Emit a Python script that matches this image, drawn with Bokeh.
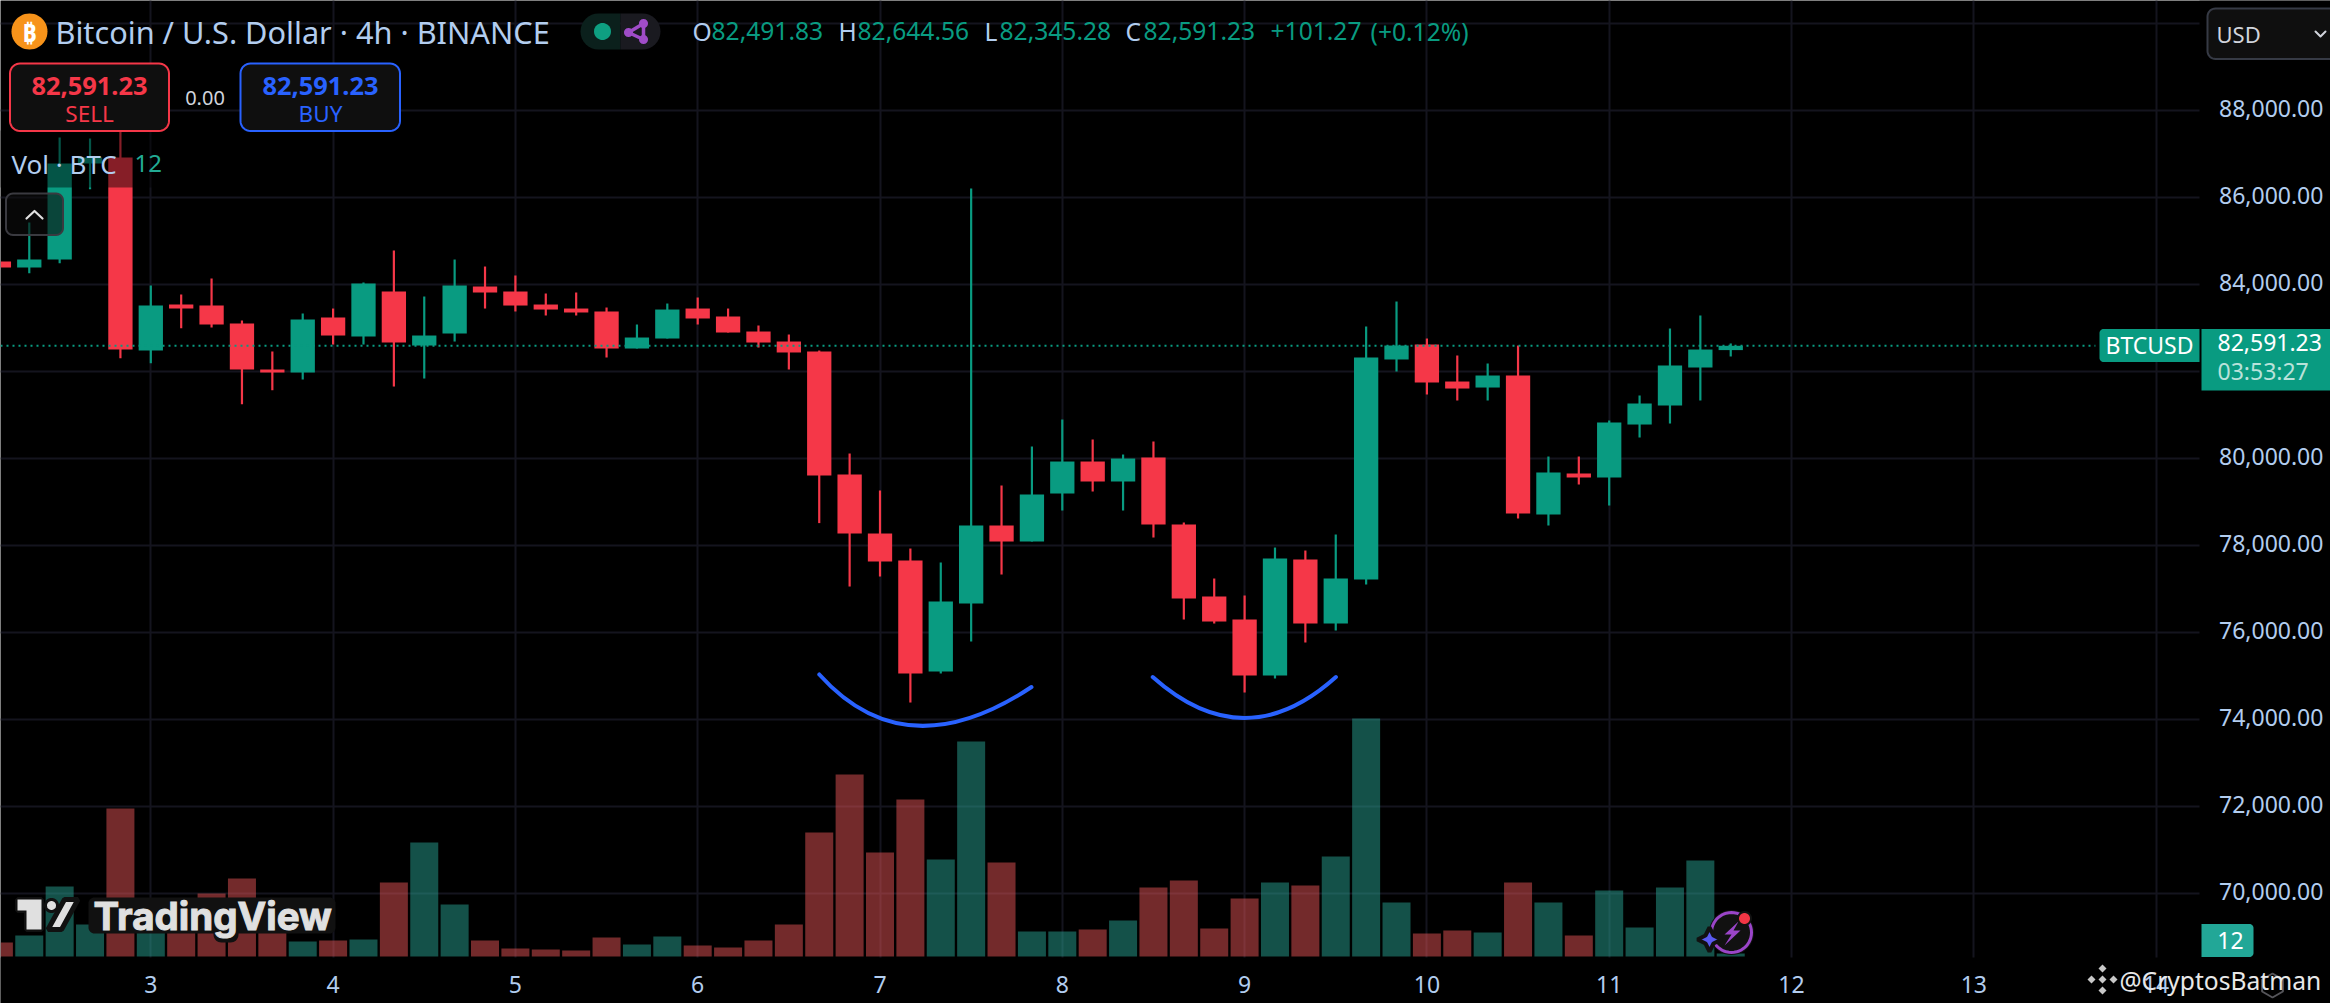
import numpy as np
from bokeh.core.properties import value
from bokeh.plotting import figure
from bokeh.models import Range1d, LinearAxis, Grid, FixedTicker, NumeralTickFormatter
from bokeh.embed import file_html
from bokeh.resources import INLINE

# ---- data ----
bar_index = list(range(-5, 53))   # 4h candles counted from the 3rd, 00:00
opens = [84527, 84389, 84573, 86779, 86917, 82482, 83539, 83516, 83103, 82046,
         81977, 83241, 82804, 83838, 82597, 82873, 83953, 83838, 83539, 83447,
         83379, 82528, 82758, 83447, 83264, 82919, 82689, 82460, 79634, 78278,
         77658, 75107, 76670, 78462, 78094, 79197, 79932, 79473, 80024, 78485,
         76831, 76302, 75016, 77681, 76210, 77221, 82276, 82620, 81770, 81632,
         81908, 78715, 79657, 79565, 80782, 81219, 82092, 82491.83]
closes = [84389, 84573, 86779, 86917, 82505, 83516, 83447, 83080, 82046, 81977,
          83195, 82827, 84022, 82666, 82827, 83976, 83815, 83516, 83424, 83356,
          82528, 82781, 83424, 83218, 82896, 82666, 82437, 79611, 78278, 77635,
          75062, 76716, 78462, 78094, 79174, 79932, 79473, 80001, 78485, 76785,
          76256, 75016, 77704, 76210, 77244, 82322, 82597, 81747, 81609, 81908,
          78738, 79680, 79565, 80828, 81265, 82138, 82505, 82591.23]
highs = [84527, 85423, 87376, 87353, 87652, 83976, 83769, 84137, 83172, 82460,
         83333, 83447, 84045, 84780, 83723, 84573, 84412, 84206, 83792, 83815,
         83470, 83080, 83562, 83700, 83447, 83057, 82850, 82482, 80116, 79266,
         77933, 77612, 86204, 79381, 80277, 80897, 80438, 80093, 80392, 78531,
         77244, 76854, 77956, 77887, 78255, 83034, 83608, 82758, 82368, 82184,
         82597, 80047, 80047, 80874, 81449, 82988, 83287, 82644.56]
lows = [84389, 84258, 84488, 86188, 82306, 82191, 82995, 83011, 81249, 81570,
        81816, 82620, 82620, 81655, 81839, 82689, 83447, 83379, 83287, 83287,
        82322, 82528, 82758, 83080, 82896, 82551, 82046, 78517, 77060, 77290,
        74395, 75062, 75797, 77336, 78094, 78806, 79243, 78806, 78186, 76302,
        76210, 74625, 74947, 75774, 76049, 77106, 82000, 81472, 81334, 81334,
        78623, 78462, 79404, 78921, 80484, 80805, 81334, 82345.28]
volumes = [56, 84, 280, 128, 592, 120, 132, 252, 312, 112, 60, 64, 68, 296, 456,
           208, 64, 32, 28, 24, 76, 48, 80, 44, 36, 64, 128, 496, 728, 416, 628,
           388, 860, 376, 100, 100, 108, 144, 276, 304, 112, 232, 296, 284, 400,
           952, 216, 92, 104, 96, 296, 216, 84, 264, 116, 276, 384, 12]
price_ticks = [70000, 72000, 74000, 76000, 78000, 80000, 82000, 84000, 86000, 88000, 90000]
day_ticks = [3, 4, 5, 6, 7, 8, 9, 10, 11, 12, 13, 14]
last_price = 82591.23
# hand-drawn smile strokes: start day, end day, control day, start price, end price, control price
smile_x0 = [6.667, 8.496]
smile_x1 = [7.831, 9.501]
smile_cx = [7.140, 9.000]
smile_y0 = [75039, 74981]
smile_y1 = [74751, 74981]
smile_cy = [72833, 73097]

RED, GREEN = "#F53748", "#099B81"
VOL_RED, VOL_GREEN = "#F45A5C", "#2AAC9C"
BLUE = "#2962FF"
TXT = "#B2CDEF"
FONT = "Noto Sans"
BG = "#000000"
GRID = "#14141E"

days = 3 + np.array(bar_index) / 6
up = [c >= o for o, c in zip(opens, closes)]
col = [GREEN if u else RED for u in up]
vol_col = [VOL_GREEN if u else VOL_RED for u in up]
body_top = [max(o, c) for o, c in zip(opens, closes)]
body_bot = [min(o, c) for o, c in zip(opens, closes)]

p = figure(width=2330, height=1003, output_backend="svg", toolbar_location=None,
           x_range=Range1d(2.1755, 14.9567), y_range=Range1d(67480, 90524),
           x_axis_type=None, y_axis_type=None, min_border=0,
           background_fill_color=BG, border_fill_color=BG, outline_line_color=None)
p.extra_x_ranges["px"] = Range1d(0, 2330)
p.extra_y_ranges["py"] = Range1d(1003, 0)
p.extra_y_ranges["vol"] = Range1d(-188, 3824)
p.extra_y_ranges["ylab"] = Range1d(67480 - 46, 90524 - 46)  # labels sit 2px above their grid lines

# grids
p.add_layout(Grid(dimension=0, ticker=FixedTicker(ticks=day_ticks), grid_line_color=GRID, grid_line_width=2))
p.add_layout(Grid(dimension=1, ticker=FixedTicker(ticks=price_ticks), grid_line_color=GRID, grid_line_width=2))
PX = dict(x_range_name="px", y_range_name="py")
# scales' gutters hide the grid
p.quad(left=[2199], right=[2330], top=[0], bottom=[1003], fill_color=BG, line_color=None, **PX)
p.quad(left=[0], right=[2330], top=[957], bottom=[1003], fill_color=BG, line_color=None, **PX)

# axes
yax = LinearAxis(ticker=FixedTicker(ticks=price_ticks), formatter=NumeralTickFormatter(format="0,0.00"),
                 y_range_name="ylab",
                 fixed_location=14.918, axis_line_color=None, major_tick_line_color=None,
                 minor_tick_line_color=None, major_tick_out=0, major_tick_in=0, major_label_standoff=0,
                 major_label_text_color=TXT, major_label_text_font=FONT,
                 major_label_text_font_size="23px", major_label_overrides={90000: ""})
p.add_layout(yax, "left")
xax = LinearAxis(ticker=FixedTicker(ticks=day_ticks), fixed_location=68123,
                 axis_line_color=None, major_tick_line_color=None, minor_tick_line_color=None,
                 major_tick_out=0, major_tick_in=0, major_label_standoff=0,
                 major_label_text_color=TXT, major_label_text_font=FONT, major_label_text_font_size="23px")
p.add_layout(xax, "below")

# volume
p.vbar(x=days, width=0.1536, top=volumes, bottom=0, fill_color=vol_col, fill_alpha=0.47, line_color=None,
       y_range_name="vol")
# candles
p.segment(x0=days, x1=days, y0=lows, y1=highs, line_color=col, line_width=2.2)
p.vbar(x=days, width=0.1333, top=body_top, bottom=body_bot, fill_color=col, line_color=None)
# last price dotted line
p.line(x=[2.1755, 13.667], y=[last_price, last_price], line_color=GREEN, line_width=2, line_dash=[2, 4])
# smiles
p.quadratic(x0=smile_x0, y0=smile_y0, x1=smile_x1, y1=smile_y1, cx=smile_cx, cy=smile_cy,
            line_color=BLUE, line_width=4, line_cap="round")


def poly(xs, ys, fill=None, line=None, lw=1, alpha=1.0, dash="solid"):
    return p.patch(x=list(xs), y=list(ys), fill_color=fill, fill_alpha=alpha if fill else 0, line_color=line,
                   line_width=lw, line_dash=dash, level="overlay", **PX)


def rrect(x0, y0, x1, y1, r=8, fill="#0F0F0F", line=None, lw=2, alpha=1.0, corners=(1, 1, 1, 1), dash="solid"):
    # corners: tl, tr, br, bl
    xs, ys = [], []
    cs = [(x0, y0, 180, corners[0]), (x1, y0, 270, corners[1]), (x1, y1, 0, corners[2]), (x0, y1, 90, corners[3])]
    for cx, cy, a0, on in cs:
        if on:
            sx = 1 if cx == x0 else -1
            sy = 1 if cy == y0 else -1
            t = np.radians(np.linspace(a0, a0 + 90, 9))
            xs += list(cx + sx * r + r * np.cos(t))
            ys += list(cy + sy * r + r * np.sin(t))
        else:
            xs.append(cx)
            ys.append(cy)
    return poly(xs, ys, fill, line, lw, alpha, dash)


def circle(cx, cy, r, fill=None, line=None, lw=1):
    t = np.radians(np.linspace(0, 360, 49))
    return poly(cx + r * np.cos(t), cy + r * np.sin(t), fill, line, lw)


def pline(xs, ys, color, lw=2):
    return p.line(x=list(xs), y=list(ys), line_color=color, line_width=lw, level="overlay",
                  line_cap="round", line_join="round", **PX)


def txt(x, y, s, color=TXT, size=23, align="left", style="normal", font=FONT, **kw):
    return p.text(x=[x], y=[y], text=[s], text_color=color, text_font=value(font), text_font_size=f"{size}px",
                  text_align=align, text_baseline="middle", text_font_style=style, level="overlay", **PX, **kw)


# dim veil behind the volume legend
p.quad(left=[0], right=[160], top=[130], bottom=[187], fill_color=BG, fill_alpha=0.45, line_color=None,
       level="overlay", **PX)

# title row
circle(29, 31, 18, fill="#F7931A")
txt(29, 31, "\u20bf", "#FFFFFF", 25, "center", "bold")
txt(55, 31, "Bitcoin / U.S. Dollar \u00b7 4h \u00b7 BINANCE", TXT, 30.7)
rrect(580, 13, 620, 49, 18, "#0B201C", corners=(1, 0, 0, 1))
rrect(620, 13, 660, 49, 18, "#1A1A20", corners=(0, 1, 1, 0))
circle(602, 31, 8.5, fill="#0E9F81")
pline([643, 628, 643, 643], [23, 32, 39, 23], "#A04CC8", 3.5)
for nx, ny in [(643, 23), (628, 32), (643, 39)]:
    circle(nx, ny, 4.5, fill="#A04CC8")
txt(692, 30.5, "O", TXT, 24.6)
txt(711, 30.5, "82,491.83", GREEN, 24.6)
txt(838, 30.5, "H", TXT, 24.6)
txt(857, 30.5, "82,644.56", GREEN, 24.6)
txt(984, 30.5, "L", TXT, 24.6)
txt(999, 30.5, "82,345.28", GREEN, 24.6)
txt(1125, 30.5, "C", TXT, 24.6)
txt(1143, 30.5, "82,591.23", GREEN, 24.6)
txt(1270, 30.5, "+101.27", GREEN, 24.6)
txt(1370, 30.5, "(+0.12%)", GREEN, 24.6)

# sell / buy
rrect(9.5, 63, 168.5, 130.5, 10, "#0F0F0F", "#F53748", 2)
txt(89, 85.5, "82,591.23", RED, 25.4, "center", "bold")
txt(89, 113, "SELL", RED, 22.5, "center")
txt(204.5, 97, "0.00", "#D1D4DC", 20, "center")
rrect(240, 63, 399.5, 130.5, 10, "#0F0F0F", BLUE, 2)
txt(320, 85.5, "82,591.23", BLUE, 25.4, "center", "bold")
txt(320, 113, "BUY", BLUE, 22.5, "center")

# volume legend
txt(11, 163, "Vol \u00b7 BTC", TXT, 26)
txt(134, 163, "12", "#22AB94", 24)
rrect(5.5, 193, 62.5, 234.5, 7, "#0B0B0B", "#3A3A40", 2, alpha=0.6)
pline([26, 34, 42], [218, 210.5, 218], "#E0E0E0", 2.2)

# right scale widgets
rrect(2207, 8, 2345, 58.5, 8, "#0F0F0F", "#363A45", 2)
txt(2216, 33, "USD", "#D1D4DC", 22)
pline([2315, 2320, 2325], [31, 36, 31], "#D1D4DC", 2)
rrect(2099, 328.5, 2199, 361.5, 4, GREEN, corners=(1, 0, 0, 1))
txt(2149, 344, "BTCUSD", "#FFFFFF", 23, "center")
poly([2201, 2330, 2330, 2201], [328.5, 328.5, 390, 390], GREEN)
txt(2217, 341.5, "82,591.23", "#FFFFFF", 23)
txt(2217, 370.5, "03:53:27", "#B8E2DA", 23)
rrect(2201, 923.5, 2253, 956.5, 4, "#22A797", corners=(0, 1, 1, 0))
txt(2230, 940, "12", "#FFFFFF", 23, "center")

# TradingView watermark
HALO = "#111111"
rrect(88, 897, 335, 933, 6, HALO)
rrect(213, 925, 238, 942, 8, HALO)
poly([17, 41, 41, 26, 26, 17], [899, 899, 929, 929, 910, 910], "#E0E0E0", HALO, 5)
circle(51, 905, 6, "#E0E0E0", HALO, 3)
poly([64, 77.5, 61, 47.5], [899, 899, 929, 929], "#E0E0E0", HALO, 5)
poly([17, 41, 41, 26, 26, 17], [899, 899, 929, 929, 910, 910], "#E0E0E0")
txt(93, 915, "TradingView", "#E0E0E0", 38.5, style="bold", font="Inter", text_outline_color="#E0E0E0")

# assistant icon
circle(1731, 932, 20, "#111111", "#111111", 5)
circle(1731, 932, 20, "#111111", "#9A45C8", 3)
poly([1738, 1724, 1731, 1724, 1740, 1733], [921, 934, 934, 945, 930, 930], "#9A45C8")
circle(1744, 918, 7.5, "#111111")
circle(1744, 918, 5.5, "#F23645")
star = [(1709, 927), (1713, 935), (1721, 939), (1713, 943), (1709, 951), (1705, 943), (1697, 939), (1705, 935)]
poly([a for a, b in star], [b for a, b in star], "#5A5AF0", "#111111", 4)

# author stamp
for dx, dy, r in [(0, -11, 4), (-11, 0, 4), (11, 0, 4), (0, 11, 4), (0, 0, 4)]:
    poly([2102 + dx, 2102 + dx + r, 2102 + dx, 2102 + dx - r],
         [979 + dy - r, 979 + dy, 979 + dy + r, 979 + dy], "#C8C8C8")
t6 = np.radians(np.arange(0, 361, 60) - 90)
poly(2272 + 12 * np.cos(t6), 985 + 12 * np.sin(t6), None, "#55555A", 2)
txt(2119, 980, "@CryptosBatman", "#E8E8E8", 24.6)

assert len(opens) == len(closes) == len(highs) == len(lows) == len(volumes) == len(bar_index)
open("out.html", "w").write(file_html(p, INLINE))
